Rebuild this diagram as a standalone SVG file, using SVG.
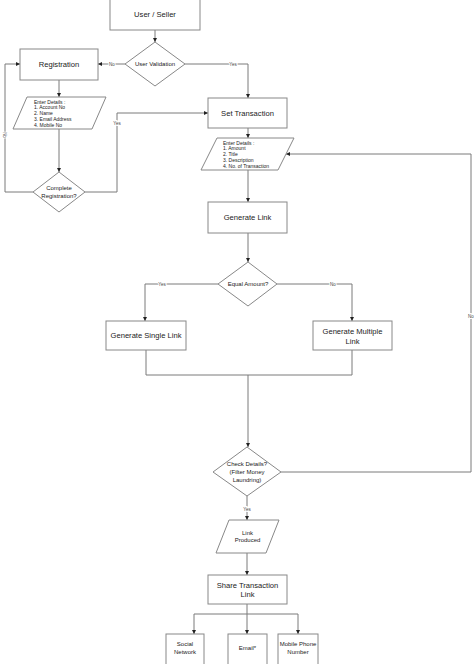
<svg xmlns="http://www.w3.org/2000/svg" width="474" height="664" viewBox="0 0 474 664">
<defs>
<marker id="ah" viewBox="0 0 6 6" refX="6" refY="3" markerWidth="4" markerHeight="4" orient="auto" markerUnits="userSpaceOnUse">
<path d="M0,0 L6,3 L0,6 Z" fill="#222"/>
</marker>
<style>
.box{fill:#fff;stroke:#888;stroke-width:1}
.t{font-family:"Liberation Sans",Arial,sans-serif;fill:#222;text-anchor:middle}
.b{font-size:7.6px}
.d{font-size:6px}
.s{font-size:5px;text-anchor:start}
.lbl{font-family:"Liberation Sans",Arial,sans-serif;font-size:4.5px;fill:#444;text-anchor:middle;stroke:#fff;stroke-width:2;paint-order:stroke}
.c{fill:none;stroke:#7a7a7a;stroke-width:1}
.ca{fill:none;stroke:#7a7a7a;stroke-width:1;marker-end:url(#ah)}
</style>
</defs>
<rect width="474" height="664" fill="#fff"/>

<g id="connectors">
<path class="ca" d="M155,30 V42"/>
<path class="ca" d="M125,64 H98"/>
<path class="ca" d="M185,64 H248 V98"/>
<path class="ca" d="M59,80 V97"/>
<path class="ca" d="M59,129 V172"/>
<path class="ca" d="M33,192 H5 V64 H20"/>
<path class="ca" d="M85,192 H117 V113 H208"/>
<path class="ca" d="M248,128 V138"/>
<path class="ca" d="M248,170 V202"/>
<path class="ca" d="M248,233 V262"/>
<path class="ca" d="M218,284 H145 V321"/>
<path class="ca" d="M277,284 H352 V321"/>
<path class="c" d="M146,350 V375 H352 V350"/>
<path class="ca" d="M248,375 V447"/>
<path class="ca" d="M281,472 H471 V154 H286"/>
<path class="ca" d="M247,496 V520"/>
<path class="ca" d="M247,553 V575"/>
<path class="ca" d="M247,604 V634"/>
<path class="c" d="M194,614 H298"/>
<path class="ca" d="M194,614 V634"/>
<path class="ca" d="M298,614 V634"/>
<text class="lbl" x="112" y="65.6">No</text>
<text class="lbl" x="233" y="65.6">Yes</text>
<text class="lbl" transform="translate(5,135) rotate(90)" x="0" y="1.6">No</text>
<text class="lbl" x="117" y="124.6">Yes</text>
<text class="lbl" x="162" y="285.6">Yes</text>
<text class="lbl" x="333" y="285.6">No</text>
<text class="lbl" x="471" y="317.6">No</text>
<text class="lbl" x="247" y="510.6">Yes</text>
</g>

<g id="user-seller">
<rect class="box" x="110" y="-1" width="90" height="31"/>
<text class="t b" x="155" y="17">User / Seller</text>
</g>

<g id="user-validation">
<polygon class="box" points="155,42 185,64 155,86 125,64"/>
<text class="t d" x="155" y="66">User Validation</text>
</g>

<g id="registration">
<rect class="box" x="20" y="49" width="78" height="31"/>
<text class="t b" x="59" y="67">Registration</text>
</g>

<g id="enter-details-registration">
<polygon class="box" points="27,97 106,97 92,129 13,129"/>
<text class="t s" x="34" y="103.5">Enter Details :</text>
<text class="t s" x="34" y="109.3">1. Account No</text>
<text class="t s" x="34" y="115.1">2. Name</text>
<text class="t s" x="34" y="120.9">3. Email Address</text>
<text class="t s" x="34" y="126.7">4. Mobile No</text>
</g>

<g id="complete-registration">
<polygon class="box" points="59,172 85,192 59,212 33,192"/>
<text class="t d" x="59" y="190">Complete</text>
<text class="t d" x="59" y="197.5">Registration?</text>
</g>

<g id="set-transaction">
<rect class="box" x="208" y="98" width="79" height="30"/>
<text class="t b" x="247.5" y="116">Set Transaction</text>
</g>

<g id="enter-details-transaction">
<polygon class="box" points="217,138 294,138 278,170 201,170"/>
<text class="t s" x="223" y="144.5">Enter Details :</text>
<text class="t s" x="223" y="150.2">1. Amount</text>
<text class="t s" x="223" y="156">2. Title</text>
<text class="t s" x="223" y="162">3. Description</text>
<text class="t s" x="223" y="167.8">4. No. of Transaction</text>
</g>

<g id="generate-link">
<rect class="box" x="208" y="202" width="79" height="31"/>
<text class="t b" x="247.5" y="220">Generate Link</text>
</g>

<g id="equal-amount">
<polygon class="box" points="248,262 277,284 248,306 218,284"/>
<text class="t d" x="248" y="286">Equal Amount?</text>
</g>

<g id="generate-single-link">
<rect class="box" x="106" y="321" width="80" height="29"/>
<text class="t b" x="146" y="338">Generate Single Link</text>
</g>

<g id="generate-multiple-link">
<rect class="box" x="313" y="321" width="79" height="29"/>
<text class="t b" x="352.5" y="333.5">Generate Multiple</text>
<text class="t b" x="352.5" y="343.5">Link</text>
</g>

<g id="check-details">
<polygon class="box" points="247,447 281,472 247,496 213,472"/>
<text class="t d" x="247" y="466.3">Check Details?</text>
<text class="t d" x="247" y="474.3">(Filter Money</text>
<text class="t d" x="247" y="482">Laundring)</text>
</g>

<g id="link-produced">
<polygon class="box" points="229,520 279,520 266,553 216,553"/>
<text class="t d" x="247.5" y="534.7">Link</text>
<text class="t d" x="247.5" y="541.5">Produced</text>
</g>

<g id="share-transaction-link">
<rect class="box" x="208" y="575" width="79" height="29"/>
<text class="t b" x="247.5" y="588">Share Transaction</text>
<text class="t b" x="247.5" y="597">Link</text>
</g>

<g id="social-network">
<rect class="box" x="166" y="634" width="38" height="40"/>
<text class="t d" x="185" y="645.5">Social</text>
<text class="t d" x="185" y="654">Network</text>
</g>

<g id="email">
<rect class="box" x="228" y="634" width="39" height="40"/>
<text class="t d" x="247.5" y="650">Email*</text>
</g>

<g id="mobile-phone-number">
<rect class="box" x="278" y="634" width="40" height="40"/>
<text class="t d" x="298" y="645.5">Mobile Phone</text>
<text class="t d" x="298" y="654">Number</text>
</g>
</svg>
